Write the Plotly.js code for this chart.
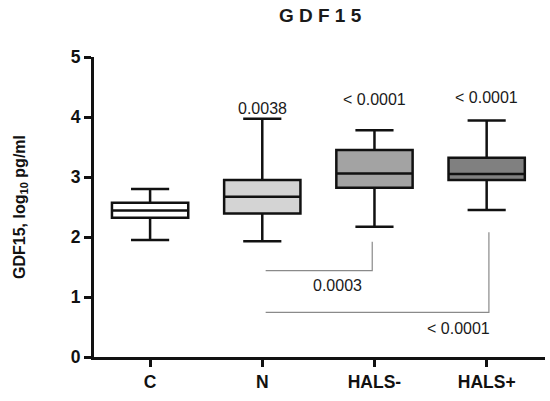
<!DOCTYPE html>
<html>
<head>
<meta charset="utf-8">
<script src="https://cdn.plot.ly/plotly-3.0.1.min.js"></script>
<style>html,body{margin:0;padding:0;background:#fff;}#chart{width:550px;height:401px;}</style>
</head>
<body>
<div id="chart"></div>
<script>
// Data
const categories = ["C", "N", "HALS-", "HALS+"];
const lowerWhisker = [1.95, 1.93, 2.17, 2.45];
const q1Values = [2.32, 2.39, 2.82, 2.95];
const medianValues = [2.44, 2.67, 3.06, 3.05];
const q3Values = [2.57, 2.95, 3.45, 3.32];
const upperWhisker = [2.80, 3.97, 3.78, 3.94];
const boxColors = ["#ffffff", "#d4d4d4", "#a3a3a3", "#808080"];
const topLabels = ["", "0.0038", "< 0.0001", "< 0.0001"];
const topLabelY = [null, 4.15, 4.3, 4.32];
// Brackets: from group index to group index, horizontal y, vertical top y, p label, label y
const bracketFrom = [1.03, 1.03];
const bracketTo = [1.98, 3.02];
const bracketY = [1.44, 0.745];
const bracketTopY = [1.92, 2.08];
const bracketLabels = ["0.0003", "< 0.0001"];
const bracketLabelX = [1.67, 2.75];
const bracketLabelY = [1.2, 0.47];
const yTicks = [0, 1, 2, 3, 4, 5];

const FONT = "Arial, Liberation Sans, sans-serif";

const traces = categories.map((c, i) => ({
  type: "box",
  name: c,
  x: [i],
  q1: [q1Values[i]],
  median: [medianValues[i]],
  q3: [q3Values[i]],
  lowerfence: [lowerWhisker[i]],
  upperfence: [upperWhisker[i]],
  width: 0.68,
  whiskerwidth: 0.5,
  fillcolor: boxColors[i],
  line: {color: "#111111", width: 2.5},
  boxpoints: false,
  hoverinfo: "skip",
  showlegend: false
}));

bracketFrom.forEach((f, k) => {
  traces.push({
    type: "scatter", mode: "lines",
    x: [f, bracketTo[k], bracketTo[k]],
    y: [bracketY[k], bracketY[k], bracketTopY[k]],
    line: {color: "#8a8a8a", width: 1.2},
    hoverinfo: "skip", showlegend: false
  });
});

const annotations = [];
topLabels.forEach((t, i) => {
  if (t) annotations.push({x: i, y: topLabelY[i], xref: "x", yref: "y", text: t, showarrow: false,
    font: {family: FONT, size: 16, color: "#1a1a1a"}});
});
bracketLabels.forEach((t, k) => {
  annotations.push({x: bracketLabelX[k], y: bracketLabelY[k], xref: "x", yref: "y", text: t, showarrow: false,
    font: {family: FONT, size: 16, color: "#1a1a1a"}});
});

const layout = {
  width: 550, height: 401,
  margin: {l: 94, r: 5, t: 57, b: 44},
  paper_bgcolor: "#ffffff", plot_bgcolor: "#ffffff",
  title: {text: "G D F 1 5", x: 0.582, xanchor: "center", y: 0.962, yanchor: "middle",
    font: {family: FONT, size: 19, color: "#1a1a1a", weight: "bold"}},
  xaxis: {
    range: [-0.5, 3.52], tickvals: [0, 1, 2, 3], ticktext: categories,
    showgrid: false, zeroline: false, showline: true, linecolor: "#111111", linewidth: 3,
    ticks: "outside", ticklen: 7, tickwidth: 3, tickcolor: "#111111",
    tickfont: {family: FONT, size: 17.5, color: "#111111", weight: "bold"}
  },
  yaxis: {
    range: [0, 5], tickvals: yTicks,
    showgrid: false, zeroline: false, showline: true, linecolor: "#111111", linewidth: 3,
    ticks: "outside", ticklen: 7, tickwidth: 3, tickcolor: "#111111",
    tickfont: {family: FONT, size: 17.5, color: "#111111", weight: "bold"},
    title: {text: "GDF15, log<sub>10</sub> pg/ml", standoff: 42,
      font: {family: FONT, size: 16, color: "#111111", weight: "bold"}}
  },
  annotations: annotations,
  showlegend: false
};

Plotly.newPlot("chart", traces, layout, {staticPlot: true, displayModeBar: false});
</script>
</body>
</html>
